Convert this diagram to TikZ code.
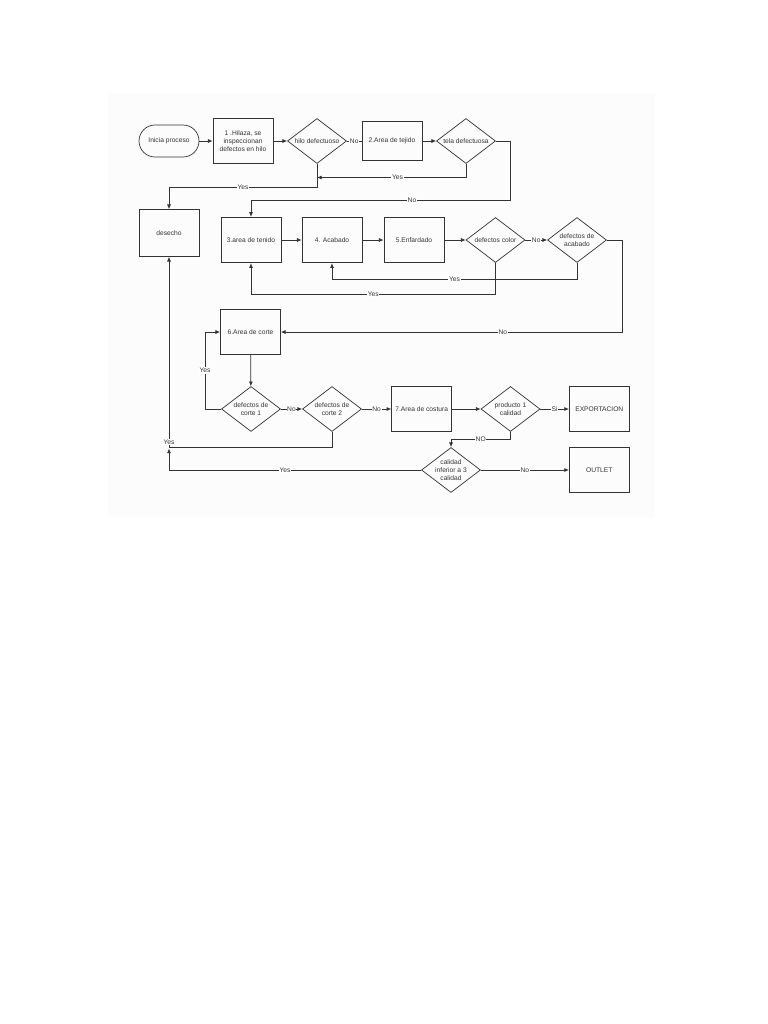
\documentclass[tikz,border=0pt]{standalone}
\usepackage{fontspec}
\setmainfont{Liberation Sans}
\usepackage{tikz}
\usetikzlibrary{shapes.geometric,arrows.meta}
\tikzset{>={Latex[length=4pt,width=3.4pt]}}
\tikzset{%
    every node/.style={font=\fontsize{5.7pt}{6.8pt}\selectfont, text=black!80},
    proc/.style={draw=black!80, rectangle, minimum width=1.8cm, minimum height=1.37cm,
        align=center, inner sep=1pt},
    term/.style={draw=black!80, rectangle, rounded corners=0.48cm, minimum width=1.8cm,
        minimum height=0.96cm, inner sep=1pt},
    dec/.style={draw=black!80, diamond, aspect=1.31, minimum width=1.77cm,
        minimum height=1.35cm, inner sep=0pt, align=center},
    lbl/.style={fill=white, inner sep=0.6pt}
}

\begin{document}
\begin{tikzpicture}[x=0.03cm, y=-0.03cm, line width=0.6pt, draw=black!80]
\useasboundingbox (0,0) rectangle (768,1024);
\fill[black!1.3] (108,93) rectangle (655,517);

% fila 1
\node[term] (ini) at (169,141) {Inicia proceso};
\node[proc] (hil) at (243,141) {1 .Hilaza, se\\inspeccionan\\defectos en hilo};
\node[dec] (hilo) at (317,141) {hilo defectuoso};
\node[proc, minimum height=1.17cm] (tej) at (392,141) {2.Area de tejido};
\node[dec] (tela) at (466,141) {tela defectuosa};
\node[proc, minimum height=1.41cm] (des) at (169,233) {desecho};

% fila 2
\node[proc] (ten) at (251,240) {3.area de tenido};
\node[proc] (aca) at (332,240) {4. Acabado};
\node[proc] (enf) at (414,240) {5.Enfardado};
\node[dec] (dcol) at (495.5,240) {defectos color};
\node[dec] (dacab) at (577,240) {defectos de\\acabado};

% fila 3
\node[proc] (cor) at (250.5,332) {6.Area de corte};
\node[dec] (dc1) at (251,409) {defectos de\\corte 1};
\node[dec] (dc2) at (332,409) {defectos de\\corte 2};
\node[proc] (cos) at (421.7,409) {7.Area de costura};
\node[dec] (prod) at (510.5,409) {producto 1\\calidad};
\node[proc] (exp) at (599.3,409) {EXPORTACION};
\node[dec] (cinf) at (451,470) {calidad\\inferior a 3\\calidad};
\node[proc] (outl) at (599.3,470) {OUTLET};

% puntos de quiebre
\coordinate (r1) at (0,177.5);
\coordinate (r2) at (0,187.3);
\coordinate (r3) at (510.7,200.7);
\coordinate (r4) at (0,279.3);
\coordinate (r5) at (0,294.3);
\coordinate (r6) at (622.3,332);
\coordinate (r7) at (205,332);
\coordinate (r8) at (169,447.7);
\coordinate (r9) at (169,448.5);
\coordinate (r10) at (0,439.3);

\draw[->] (ini) -- (hil);
\draw[->] (hil) -- (hilo);
\draw (hilo) -- node[lbl]{No} (tej);
\draw[->] (tej) -- (tela);
\draw[->] (hilo.south) -- (hilo.south |- r2) -| node[lbl,pos=0.25]{Yes} (des.north);
\draw[->] (tela.south) |- node[lbl,pos=0.73]{Yes} (hilo.south |- r1);
\draw[->] (tela.east) -| (r3) -| node[lbl,pos=0.19]{No} (ten.north);

\draw[->] (ten) -- (aca);
\draw[->] (aca) -- (enf);
\draw[->] (enf) -- (dcol);
\draw[->] (dcol) -- node[lbl]{No} (dacab);
\draw[->] (dacab.south) -- (dacab.south |- r4) -| node[lbl,pos=0.25]{Yes} (aca.south);
\draw[->] (dcol.south) -- (dcol.south |- r5) -| node[lbl,pos=0.25]{Yes} (ten.south);
\draw[->] (dacab.east) -| (r6) -- node[lbl,pos=0.35]{No} (cor.east);

\draw[->] (cor) -- (dc1);
\draw[->] (dc1.west) -| node[lbl,pos=0.75]{Yes} (r7) -- (cor.west);
\draw[->] (dc1) -- node[lbl]{No} (dc2);
\draw[->] (dc2) -- node[lbl]{No} (cos);
\draw[->] (dc2.south) |- (r8) -- node[lbl,pos=0.03]{Yes} (des.south);
\draw[->] (cinf.west) -| node[lbl,pos=0.27]{Yes} (r9);
\draw[->] (cos) -- (prod);
\draw[->] (prod) -- node[lbl]{Si} (exp);
\draw[->] (prod.south) -- (prod.south |- r10) -| node[lbl,pos=0.25]{NO} (cinf.north);
\draw[->] (cinf) -- node[lbl]{No} (outl);
\end{tikzpicture}
\end{document}
